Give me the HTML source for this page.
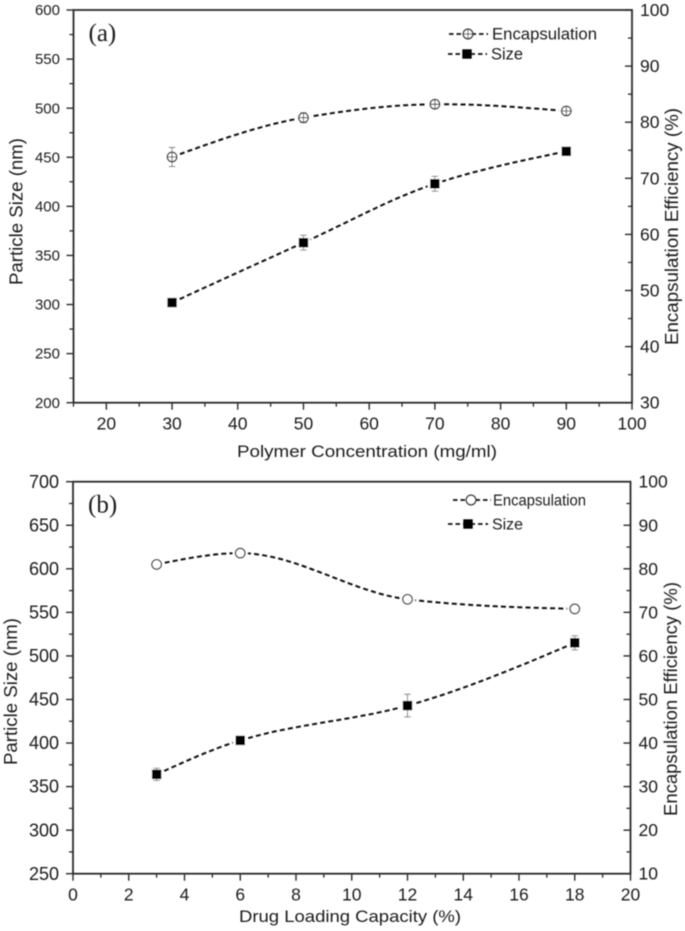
<!DOCTYPE html>
<html lang="en">
<head>
<meta charset="utf-8">
<title>Particle size and encapsulation efficiency</title>
<style>
html,body{margin:0;padding:0;background:#fff;width:685px;height:931px;overflow:hidden}
svg{display:block}
text{font-family:"Liberation Sans",Arial,sans-serif;fill:#1c1c1c}
</style>
</head>
<body>
<svg id="chart" xmlns="http://www.w3.org/2000/svg" width="685" height="931" viewBox="0 0 685 931">
<defs><filter id="soft" x="-2%" y="-2%" width="104%" height="104%"><feGaussianBlur stdDeviation="0.45"/></filter></defs>
<g id="root" filter="url(#soft)"></g>
</svg>
<script>
// Panel (a) data
const aConcentration = [30, 50, 70, 90];
const aSize = [302, 363, 423, 456];
const aSizeErr = [2, 7.5, 7.5, 2];
const aEncapsulation = [73.8, 80.8, 83.2, 82];
const aEncapsulationErr = [1.7, 0.9, 0.7, 0.5];
const aXTicks = [20, 30, 40, 50, 60, 70, 80, 90, 100];
const aLeftTicks = [200, 250, 300, 350, 400, 450, 500, 550, 600];
const aRightTicks = [30, 40, 50, 60, 70, 80, 90, 100];

// Panel (b) data
const bLoading = [3, 6, 12, 18];
const bSize = [364, 403, 443, 515];
const bSizeErr = [7, 4, 13, 8];
const bEncapsulation = [81, 83.6, 73, 70.8];
const bEncapsulationErr = [0.4, 0.4, 0.4, 0.4];
const bXTicks = [0, 2, 4, 6, 8, 10, 12, 14, 16, 18, 20];
const bLeftTicks = [250, 300, 350, 400, 450, 500, 550, 600, 650, 700];
const bRightTicks = [10, 20, 30, 40, 50, 60, 70, 80, 90, 100];

const root = document.getElementById('root');
const NS = 'http://www.w3.org/2000/svg';
function mk(tag, attrs, parent) {
  const el = document.createElementNS(NS, tag);
  for (const k in attrs) el.setAttribute(k, attrs[k]);
  (parent || root).appendChild(el);
  return el;
}
function txt(content, attrs, parent) {
  const el = mk('text', attrs, parent);
  el.textContent = content;
  return el;
}
// Smooth curve through the data points (cubic Hermite, tangents blended between shape-preserving and Catmull-Rom)
function splinePath(xs, ys) {
  const n = xs.length, h = [], s = [], d = new Array(n).fill(0);
  for (let i = 0; i < n - 1; i++) {
    h[i] = xs[i + 1] - xs[i];
    s[i] = (ys[i + 1] - ys[i]) / h[i];
  }
  for (let i = 1; i < n - 1; i++) {
    const cr = (h[i] * s[i - 1] + h[i - 1] * s[i]) / (h[i - 1] + h[i]);
    let pc = 0;
    if (s[i - 1] * s[i] > 0) {
      const w1 = 2 * h[i] + h[i - 1], w2 = h[i] + 2 * h[i - 1];
      pc = (w1 + w2) / (w1 / s[i - 1] + w2 / s[i]);
    }
    d[i] = 0.65 * pc + 0.35 * cr;
  }
  d[0] = 1.5 * s[0] - 0.5 * d[1];
  d[n - 1] = 1.5 * s[n - 2] - 0.5 * d[n - 2];
  let p = 'M' + xs[0].toFixed(1) + ' ' + ys[0].toFixed(1);
  for (let i = 0; i < n - 1; i++) {
    for (let k = 1; k <= 24; k++) {
      const t = k / 24, t2 = t * t, t3 = t2 * t;
      const y = (2 * t3 - 3 * t2 + 1) * ys[i] + (t3 - 2 * t2 + t) * h[i] * d[i] + (3 * t2 - 2 * t3) * ys[i + 1] + (t3 - t2) * h[i] * d[i + 1];
      p += 'L' + (xs[i] + t * h[i]).toFixed(1) + ' ' + y.toFixed(1);
    }
  }
  return p;
}
const AXIS = '#2b2b2b';
function drawMarker(g, kind, x, y) {
  if (kind === 'square') {
    const m = mk('rect', {x: x - 4.7, y: y - 4.7, width: 9.4, height: 9.4, fill: '#000'}, g);
    
    
  } else {
    const m = mk('circle', {cx: x, cy: y, r: 4.8, fill: '#fff', stroke: '#2a2a2a', 'stroke-width': 1.3}, g);
    
    
    if (kind === 'cross') {
      const h = mk('path', {d: `M${x - 4.8} ${y}H${x + 4.8}M${x} ${y - 4.8}V${y + 4.8}`, stroke: '#333', 'stroke-width': 0.9, fill: 'none'}, g);
      
      
    }
  }
}
function drawSeries(name, kind, xs, vals, errs, sx, sy) {
  const g = mk('g', {});
  
  
  const px = xs.map(sx), py = vals.map(sy);
  const line = mk('path', {d: splinePath(px, py), fill: 'none', stroke: '#111', 'stroke-width': 2, 'stroke-dasharray': '5 3.2'}, g);
  
  
  xs.forEach((_, i) => {
    const top = sy(vals[i] + errs[i]), bot = sy(vals[i] - errs[i]), x = px[i];
    const halo = mk('circle', {cx: x, cy: py[i], r: 7.5, fill: '#fff'}, g);
    
    
    const e = mk('path', {d: `M${x} ${top}V${bot}M${x - 3.2} ${top}H${x + 3.2}M${x - 3.2} ${bot}H${x + 3.2}`, fill: 'none', stroke: '#8a8a8a', 'stroke-width': 1}, g);
    
    
    drawMarker(g, kind, x, py[i]);
  });
}
function drawPanel(c) {
  const sx = v => c.l + (v - c.xMin) / (c.xMax - c.xMin) * (c.r - c.l);
  const syL = v => c.b - (v - c.lMin) / (c.lMax - c.lMin) * (c.b - c.t);
  const syR = v => c.b - (v - c.rMin) / (c.rMax - c.rMin) * (c.b - c.t);

  const frame = mk('rect', {x: c.l, y: c.t, width: c.r - c.l, height: c.b - c.t, fill: 'none', stroke: AXIS, 'stroke-width': 1.8});
  
  

  // x axis
  c.xTicks.forEach((v, i) => {
    const x = sx(v);
    const t = mk('path', {d: `M${x} ${c.b}v7`, stroke: AXIS, 'stroke-width': 1.4});
    
    
    if (i < c.xTicks.length - 1) {
      const mx = sx((v + c.xTicks[i + 1]) / 2);
      const m = mk('path', {d: `M${mx} ${c.b}v4`, stroke: AXIS, 'stroke-width': 1.3});
      
      
    }
    const l = txt(v, {x: x, y: c.b + c.xLabelDy, 'text-anchor': 'middle', 'font-size': c.xFont});
    
    
  });
  if (c.xMin < c.xTicks[0]) {
    const t = mk('path', {d: `M${c.l} ${c.b}v4`, stroke: AXIS, 'stroke-width': 1.3});
    
    
  }

  // left axis
  c.leftTicks.forEach((v, i) => {
    const y = syL(v);
    const t = mk('path', {d: `M${c.l} ${y}h-7`, stroke: AXIS, 'stroke-width': 1.4});
    
    
    if (i < c.leftTicks.length - 1) {
      const m = mk('path', {d: `M${c.l} ${syL((v + c.leftTicks[i + 1]) / 2)}h-4`, stroke: AXIS, 'stroke-width': 1.3});
      
      
    }
    const l = txt(v, {x: c.l - c.leftGap, y: y + c.leftFont * 0.34, 'text-anchor': 'end', 'font-size': c.leftFont});
    
    
  });

  // right axis
  c.rightTicks.forEach((v, i) => {
    const y = syR(v);
    const t = mk('path', {d: `M${c.r} ${y}h-7`, stroke: AXIS, 'stroke-width': 1.4});
    
    
    if (i < c.rightTicks.length - 1) {
      const m = mk('path', {d: `M${c.r} ${syR((v + c.rightTicks[i + 1]) / 2)}h-4`, stroke: AXIS, 'stroke-width': 1.3});
      
      
    }
    const l = txt(v, {x: c.r + 8, y: y + 6, 'font-size': 17.5});
    
    
  });

  // titles
  const xt = txt(c.xTitle, {x: c.xTitleX, y: c.xTitleY, 'font-size': 17, textLength: c.xTitleW, lengthAdjust: 'spacingAndGlyphs'});
  
  
  const yl = txt('Particle Size (nm)', {transform: `translate(${c.lTitleX} ${c.lTitleY}) rotate(-90)`, 'font-size': 18, textLength: c.lTitleW, lengthAdjust: 'spacingAndGlyphs'});
  
  
  const yr = txt('Encapsulation Efficiency (%)', {transform: `translate(${c.rTitleX} ${c.rTitleY}) rotate(-90)`, 'font-size': 18, textLength: c.rTitleW, lengthAdjust: 'spacingAndGlyphs'});
  
  

  const tag = txt(c.tag, {x: c.l + 15, y: c.t + 31, 'font-size': 25, style: 'font-family:"Liberation Serif",serif'});
  
  

  // series
  drawSeries(c.id + '-encapsulation-series', c.encKind, c.xs, c.enc, c.encErr, sx, syR);
  drawSeries(c.id + '-size-series', 'square', c.xs, c.size, c.sizeErr, sx, syL);

  // legend
  const lg = mk('g', {});
  
  
  [[c.encKind, 'Encapsulation', c.lg1], ['square', 'Size', c.lg2]].forEach(e => {
    const [kind, label, p] = e;
    const line = mk('path', {d: `M${p.x0} ${p.y}H${p.x1}`, fill: 'none', stroke: '#111', 'stroke-width': 1.8, 'stroke-dasharray': '4.5 3'}, lg);
    
    
    drawMarker(lg, kind, p.m, p.y);
    const t = txt(label, {x: p.tx, y: p.y + 5.5, 'font-size': c.lgFont, textLength: p.tw, lengthAdjust: 'spacingAndGlyphs'}, lg);
    
    
  });
}

drawPanel({
  id: 'panel-a', tag: '(a)', l: 73.5, r: 632, t: 10, b: 402.7,
  xMin: 15, xMax: 100, lMin: 200, lMax: 600, rMin: 30, rMax: 100,
  xTicks: aXTicks, leftTicks: aLeftTicks, rightTicks: aRightTicks,
  xs: aConcentration, size: aSize, sizeErr: aSizeErr, enc: aEncapsulation, encErr: aEncapsulationErr, encKind: 'cross',
  xTitle: 'Polymer Concentration (mg/ml)', xTitleX: 237, xTitleY: 457, xTitleW: 260,
  lTitleX: 22.5, lTitleY: 285, lTitleW: 147,
  rTitleX: 678, rTitleY: 345, rTitleW: 237,
  xFont: 17.5, xLabelDy: 27, leftFont: 15, leftGap: 13.5, lgFont: 16.5,
  lg1: {x0: 449, x1: 488, m: 468, y: 34, tx: 492, tw: 105},
  lg2: {x0: 448, x1: 487, m: 467, y: 54, tx: 491, tw: 32}
});
drawPanel({
  id: 'panel-b', tag: '(b)', l: 73, r: 630.5, t: 481.7, b: 873.7,
  xMin: 0, xMax: 20, lMin: 250, lMax: 700, rMin: 10, rMax: 100,
  xTicks: bXTicks, leftTicks: bLeftTicks, rightTicks: bRightTicks,
  xs: bLoading, size: bSize, sizeErr: bSizeErr, enc: bEncapsulation, encErr: bEncapsulationErr, encKind: 'open',
  xTitle: 'Drug Loading Capacity (%)', xTitleX: 239, xTitleY: 922, xTitleW: 222,
  lTitleX: 17, lTitleY: 765, lTitleW: 147,
  rTitleX: 677, rTitleY: 816, rTitleW: 234,
  xFont: 17.5, xLabelDy: 27, leftFont: 18, leftGap: 14, lgFont: 15.5,
  lg1: {x0: 453, x1: 491, m: 471, y: 500, tx: 493, tw: 93},
  lg2: {x0: 448, x1: 488, m: 468, y: 524, tx: 492, tw: 31}
});
</script>
</body>
</html>
